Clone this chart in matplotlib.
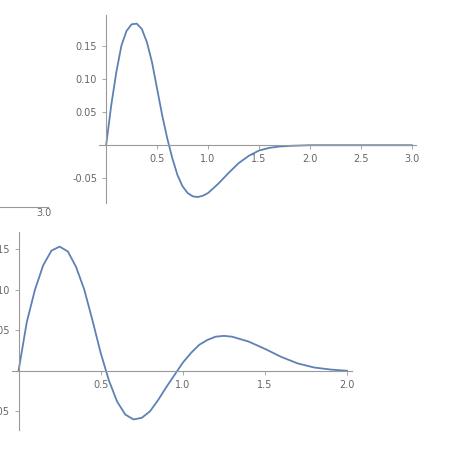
import matplotlib
matplotlib.use("Agg")
import matplotlib.pyplot as plt

top_x = [0,0.05,0.1,0.15,0.2,0.25,0.3,0.35,0.4,0.45,0.5,0.55,0.6,0.65,0.7,0.75,0.8,0.85,0.9,0.95,1.0,1.1,1.2,1.3,1.4,1.5,1.6,1.7,1.8,2.0,2.5,3.0]
top_y = [0,0.06,0.11,0.15,0.172,0.182,0.183,0.175,0.155,0.125,0.085,0.045,0.01,-0.02,-0.045,-0.062,-0.072,-0.077,-0.078,-0.076,-0.072,-0.058,-0.042,-0.027,-0.016,-0.008,-0.004,-0.002,-0.001,0,0,0]
bot_x = [0,0.05,0.1,0.15,0.2,0.25,0.3,0.35,0.4,0.45,0.5,0.55,0.6,0.65,0.7,0.75,0.8,0.85,0.9,0.95,1.0,1.05,1.1,1.15,1.2,1.25,1.3,1.4,1.5,1.6,1.7,1.8,1.9,2.0]
bot_y = [0,0.06,0.1,0.13,0.148,0.153,0.147,0.128,0.1,0.062,0.022,-0.012,-0.038,-0.054,-0.06,-0.058,-0.05,-0.036,-0.02,-0.005,0.01,0.022,0.032,0.038,0.042,0.043,0.042,0.036,0.027,0.017,0.009,0.004,0.0015,0]
top_xticks = [0.5,1.0,1.5,2.0,2.5,3.0]
top_yticks = [-0.05,0.05,0.10,0.15]
bot_xticks = [0.5,1.0,1.5,2.0]
bot_yticks = [-0.05,0.05,0.10,0.15]

W = 474
fig = plt.figure(figsize=(W/100, W/100), dpi=100)
line_c = "#5E81B5"
txt_c = "#666666"

def mk(l, r, t, b, xlim, ylim):
    ax = fig.add_axes([l/W, 1-b/W, (r-l)/W, (b-t)/W])
    ax.set_xlim(*xlim); ax.set_ylim(*ylim)
    for s in ["top", "right"]:
        ax.spines[s].set_visible(False)
    ax.spines["left"].set_position(("data", 0))
    ax.spines["bottom"].set_position(("data", 0))
    for s in ["left", "bottom"]:
        ax.spines[s].set_color("#999999"); ax.spines[s].set_linewidth(0.8)
    ax.tick_params(colors="#999999", labelcolor=txt_c, labelsize=7, length=3, width=0.6)
    ax.patch.set_alpha(0)
    return ax

ax1 = mk(99, 416, 15, 203, (-0.07, 3.04), (-0.087, 0.196))
ax1.plot(top_x, top_y, color=line_c, lw=1.3)
ax1.set_xticks(top_xticks); ax1.set_xticklabels([f"{v:.1f}" for v in top_xticks])
ax1.set_yticks(top_yticks); ax1.set_yticklabels([f"{v:.2f}" for v in top_yticks])

ax2 = mk(12, 352, 232, 430, (-0.04, 2.03), (-0.073, 0.171))
ax2.plot(bot_x, bot_y, color=line_c, lw=1.3)
ax2.set_xticks(bot_xticks); ax2.set_xticklabels([f"{v:.1f}" for v in bot_xticks])
ax2.set_yticks(bot_yticks); ax2.set_yticklabels([f"{v:.2f}" for v in bot_yticks])

# stray fragment of another plot
fig.add_artist(plt.Line2D([0, 48/W], [1-207/W, 1-207/W], color="#999999", lw=0.8))
fig.text(44/W, 1-213/W, "3.0", fontsize=7, color=txt_c, ha="center", va="center")

fig.savefig("out.png", dpi=100)
